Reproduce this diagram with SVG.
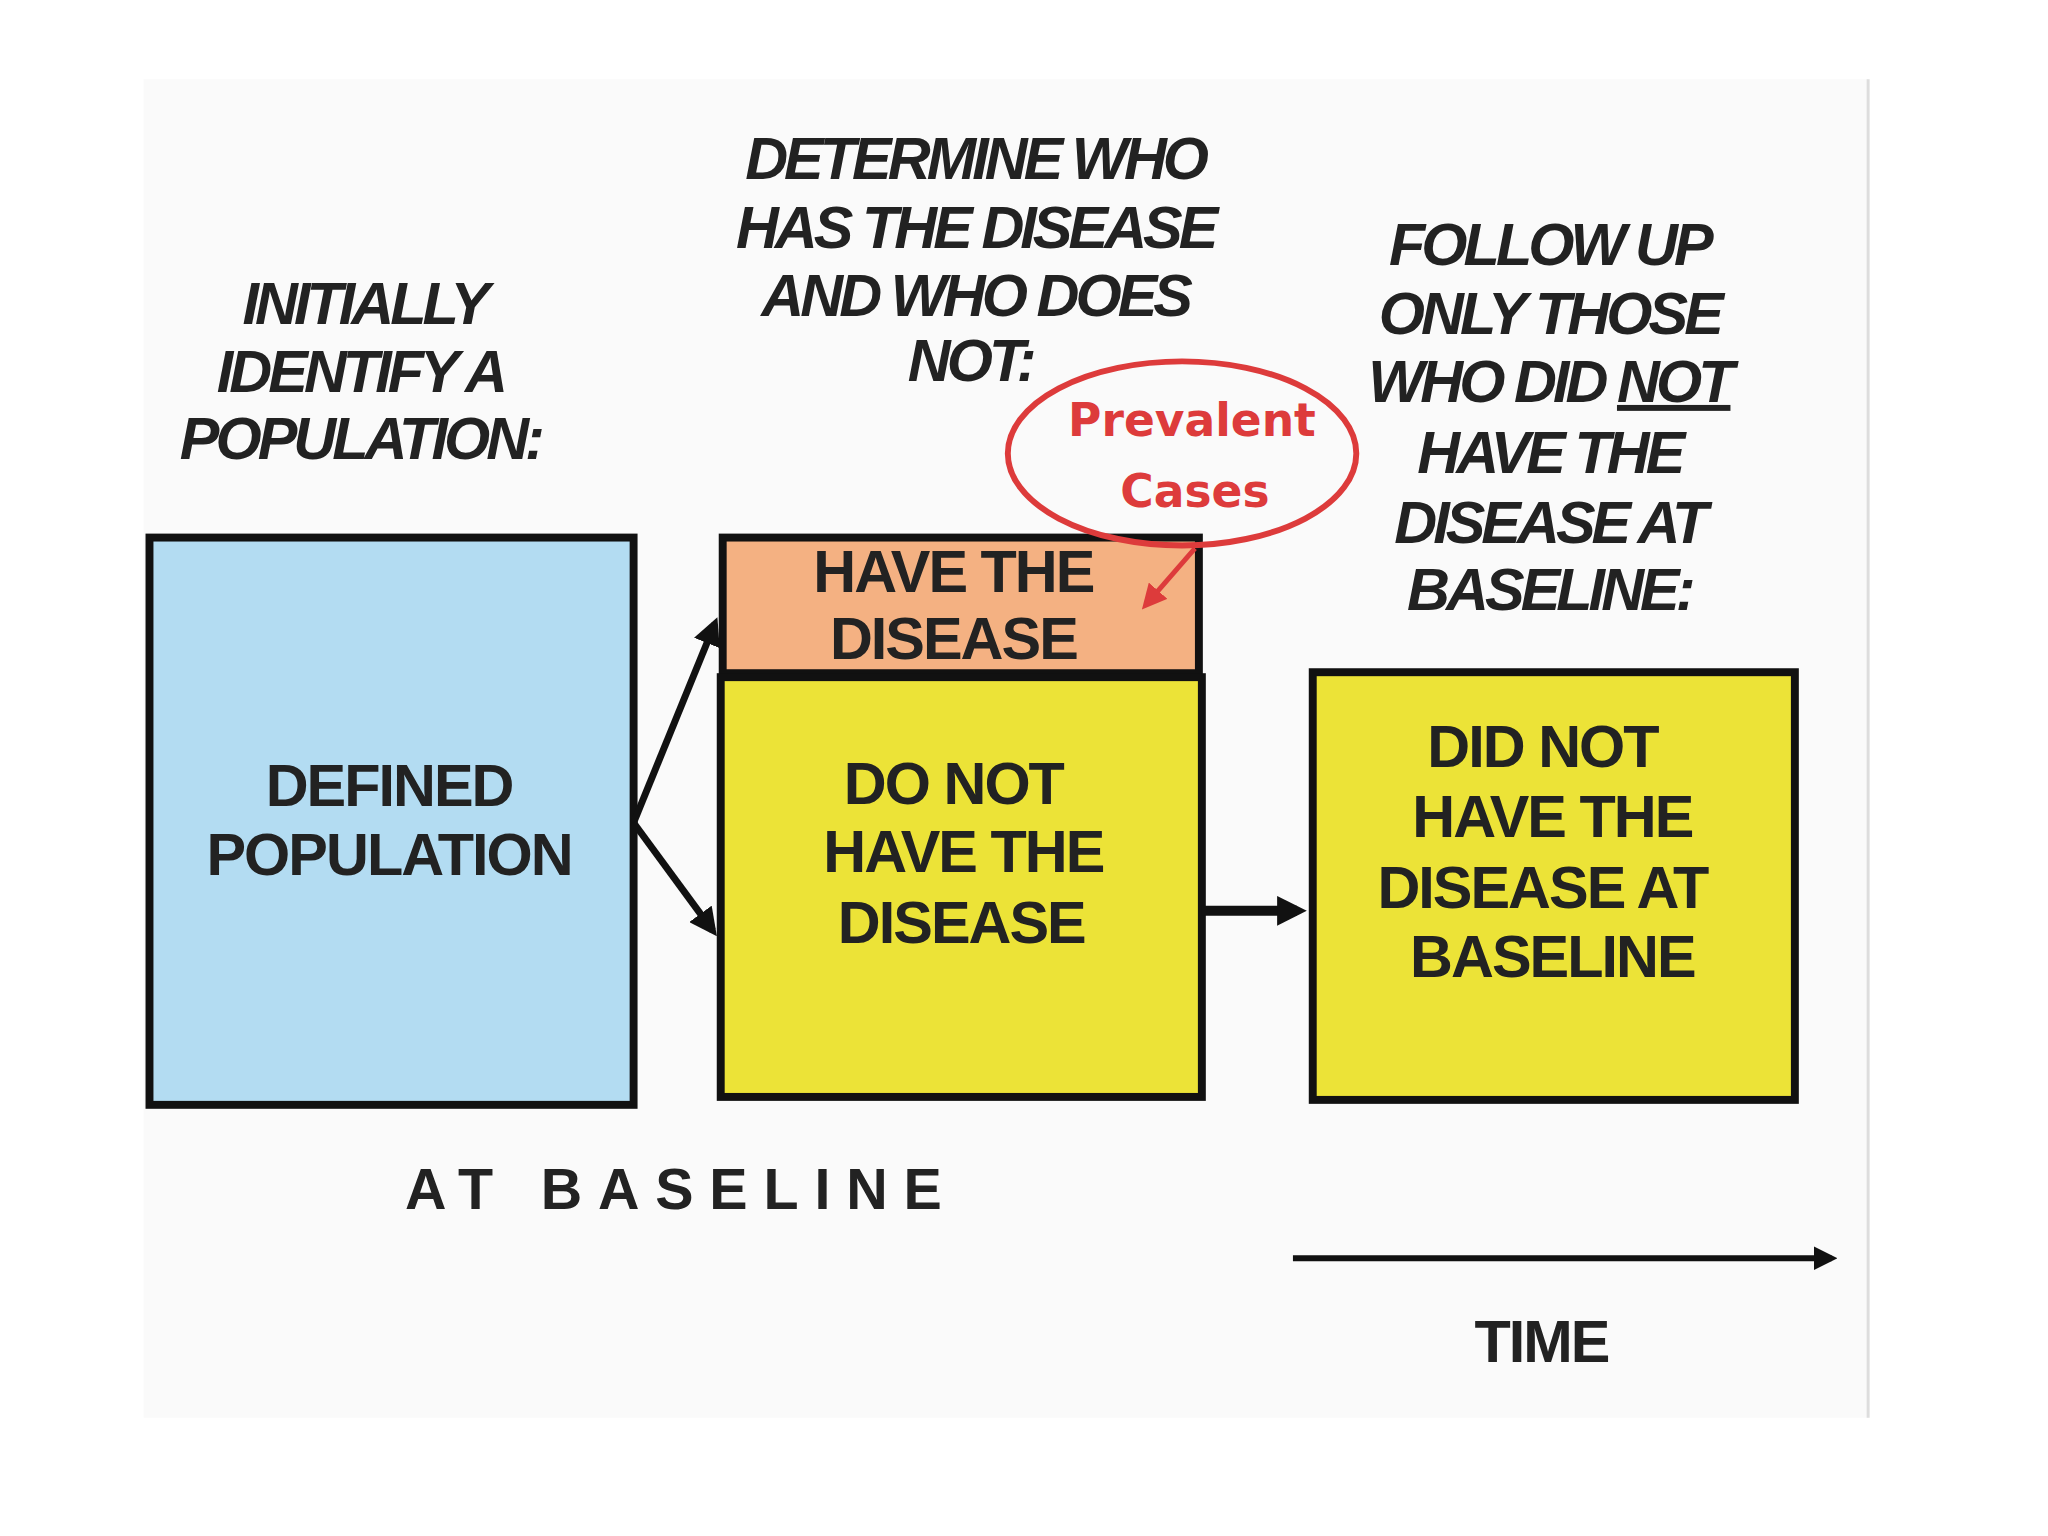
<svg xmlns="http://www.w3.org/2000/svg" width="2048" height="1536" viewBox="0 0 2048 1536">
<style>
.h{font-family:"Liberation Sans",Arial,sans-serif;font-weight:bold;font-style:italic;font-size:60px;letter-spacing:-4px;fill:#222;text-anchor:middle}
.b{font-family:"Liberation Sans",Arial,sans-serif;font-weight:bold;font-size:60px;letter-spacing:-2px;fill:#222;text-anchor:middle}
.box{stroke:#111;stroke-width:8}
.r{font-family:"DejaVu Sans",sans-serif;font-weight:bold;font-size:46px;fill:#dd3b3b;text-anchor:middle}
</style>
<defs>
<marker id="ah" markerWidth="4" markerHeight="4" refX="3" refY="2" orient="auto" markerUnits="strokeWidth"><path d="M0,0L4,2L0,4z" fill="#111"/></marker>
<marker id="ah2" markerWidth="3" markerHeight="3" refX="2" refY="1.5" orient="auto" markerUnits="strokeWidth"><path d="M0,0L3,1.5L0,3z" fill="#111"/></marker>
<marker id="ra" markerWidth="5" markerHeight="5" refX="3" refY="2.5" orient="auto" markerUnits="strokeWidth"><path d="M0,0L5,2.5L0,5z" fill="#dd3b3b"/></marker>
</defs>
<rect width="2048" height="1536" fill="#fff"/>
<g transform="scale(0.99)">
<rect x="145" y="80" width="1742" height="1352" fill="#fafafa"/>
<line x1="1887" y1="80" x2="1887" y2="1432" stroke="#ddd" stroke-width="3"/>
<g id="headers">
<text class="h" x="368" y="327">INITIALLY</text>
<text class="h" x="364" y="396">IDENTIFY A</text>
<text class="h" x="364" y="464">POPULATION:</text>
<text class="h" x="985" y="181">DETERMINE WHO</text>
<text class="h" x="985" y="251">HAS THE DISEASE</text>
<text class="h" x="985" y="319">AND WHO DOES</text>
<text class="h" x="980" y="385">NOT:</text>
<text class="h" x="1565" y="268">FOLLOW UP</text>
<text class="h" x="1565" y="337">ONLY THOSE</text>
<text class="h" x="1565" y="406">WHO DID <tspan text-decoration="underline">NOT</tspan></text>
<text class="h" x="1565" y="478">HAVE THE</text>
<text class="h" x="1565" y="548">DISEASE AT</text>
<text class="h" x="1565" y="616">BASELINE:</text>
</g>
<g id="defined"><rect class="box" x="151" y="543" width="489" height="573" fill="#b3dcf2"/>
<text class="b" x="393" y="814">DEFINED</text><text class="b" x="393" y="884">POPULATION</text></g>
<g id="have"><rect class="box" x="730" y="543" width="481" height="137" fill="#f4b182"/>
<text class="b" x="963" y="598">HAVE THE</text><text class="b" x="963" y="666">DISEASE</text></g>
<g id="donot"><rect class="box" x="728" y="684" width="486" height="424" fill="#ece337"/>
<text class="b" x="963" y="812">DO NOT</text><text class="b" x="973" y="881">HAVE THE</text><text class="b" x="971" y="953">DISEASE</text></g>
<g id="didnot"><rect class="box" x="1326" y="679" width="487" height="432" fill="#ece337"/>
<text class="b" x="1558" y="775">DID NOT</text><text class="b" x="1568" y="845">HAVE THE</text><text class="b" x="1558" y="917">DISEASE AT</text><text class="b" x="1568" y="987">BASELINE</text></g>
<g id="prevalent"><ellipse cx="1194" cy="458" rx="176" ry="93" fill="none" stroke="#dd3b3b" stroke-width="6"/>
<text class="r" x="1204" y="440">Prevalent</text><text class="r" x="1207" y="512">Cases</text></g>
<g id="connectors" fill="none">
<line x1="640" y1="831" x2="722" y2="630" stroke="#111" stroke-width="7" marker-end="url(#ah)"/>
<line x1="640" y1="831" x2="720" y2="940" stroke="#111" stroke-width="7" marker-end="url(#ah)"/>
<line x1="1214" y1="920" x2="1310" y2="920" stroke="#111" stroke-width="10" marker-end="url(#ah2)"/>
<line x1="1207" y1="554" x2="1160" y2="608" stroke="#dd3b3b" stroke-width="5" marker-end="url(#ra)"/>
<line x1="1306" y1="1271" x2="1850" y2="1271" stroke="#111" stroke-width="6" marker-end="url(#ah)"/>
</g>
<text x="409" y="1221" font-family="Liberation Sans,Arial,sans-serif" font-weight="bold" font-size="58" letter-spacing="16" fill="#222">AT BASELINE</text>
<text class="b" x="1557" y="1376" font-size="72">TIME</text>
</g>
</svg>
